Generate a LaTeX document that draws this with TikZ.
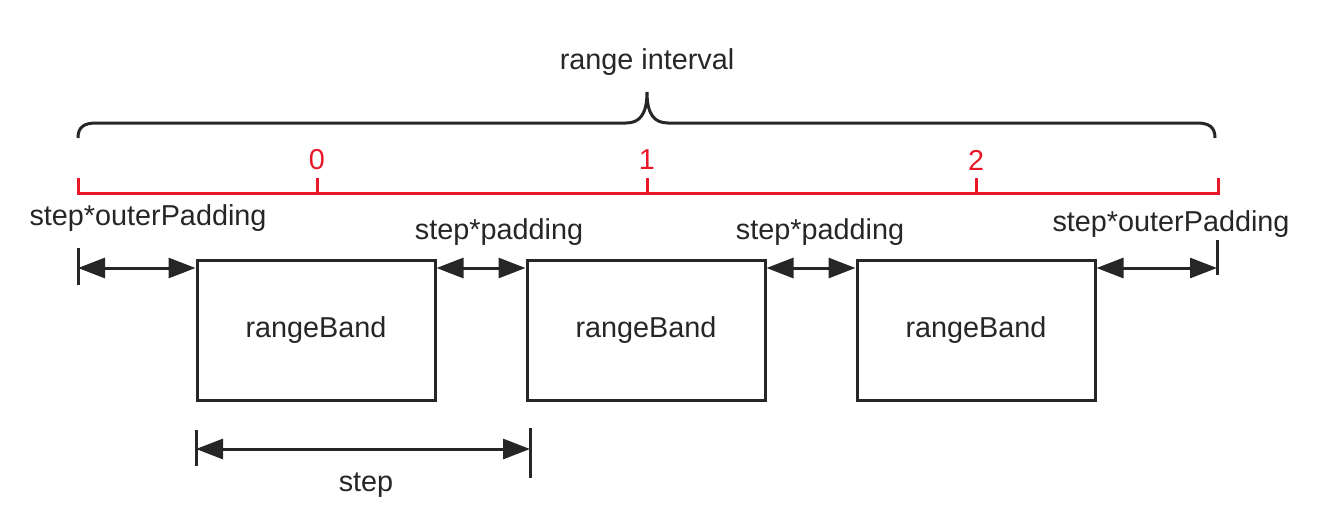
\documentclass[tikz,border=0pt]{standalone}
\usepackage{fontspec}
\setmainfont{Liberation Sans}
\usetikzlibrary{positioning,calc,arrows.meta}

\definecolor{axisred}{RGB}{232,24,40}
\definecolor{inkgray}{RGB}{38,38,38}

\tikzset{
    band/.style={draw=inkgray, line width=1.5pt, minimum width=119pt,
        minimum height=70pt, inner sep=0pt, text=inkgray},
    dimline/.style={{Triangle[length=13.5pt,width=10pt]}-{Triangle[length=13.5pt,width=10pt]},
        line width=1.5pt, draw=inkgray},
    tickline/.style={line width=1.5pt, draw=inkgray},
    lbl/.style={text=inkgray, inner sep=1pt},
    idx/.style={text=axisred, inner sep=1pt}
}

\begin{document}
\begin{tikzpicture}[x=0.5pt, y=-0.5pt, font=\fontsize{14.4}{17}\selectfont]
    \useasboundingbox (0,0) rectangle (1322,520);

    % 大括号与标题
    \node[lbl] (title) at (647,62) {range interval};
    \draw[inkgray, line width=1.5pt]
        (78,138) .. controls (78,127) and (84,123) .. (96,123) -- (626,123)
        .. controls (640,123) and (647,114) .. (647,92)
        .. controls (647,114) and (654,123) .. (668,123) -- (1197,123)
        .. controls (1209,123) and (1215,127) .. (1215,138);

    % 红色坐标轴
    \draw[axisred, line width=1.5pt] (78,178) -- (78,193) -- (1218,193) -- (1218,178);
    \foreach \i/\x in {0/317, 1/647, 2/976} {
        \draw[axisred, line width=1.5pt] (\x,178) -- (\x,193);
        \node[idx] (idx\i) at (\x,160) {\i};
    }

    % 三个 rangeBand
    \node[band] (b1) at (316,330) {rangeBand};
    \node[band, right=44.5pt of b1] (b2) {rangeBand};
    \node[band, right=44.5pt of b2] (b3) {rangeBand};

    % 外边距与内边距
    \coordinate (lo) at (78,268);
    \coordinate (ro) at (1217,268);
    \draw[tickline] (78,248) -- (78,285);
    \draw[tickline] (1217,240) -- (1217,275);
    \draw[dimline] (lo) -- (lo -| b1.west);
    \draw[dimline] (b1.east |- lo) -- (b2.west |- lo);
    \draw[dimline] (b2.east |- lo) -- (b3.west |- lo);
    \draw[dimline] (b3.east |- ro) -- (ro);

    \node[lbl] (lpad) at (148,218) {step*outerPadding};
    \node[lbl] (pad1) at (499,232) {step*padding};
    \node[lbl] (pad2) at (820,232) {step*padding};
    \node[lbl] (rpad) at (1171,224) {step*outerPadding};

    % step 标注
    \coordinate (s1) at (196,449);
    \coordinate (s2) at (530,449);
    \draw[tickline] (196,430) -- (196,466);
    \draw[tickline] (530,428) -- (530,478);
    \draw[dimline] (s1) -- (s2);
    \node[lbl] (steplbl) at (366,485) {step};

\end{tikzpicture}
\end{document}
